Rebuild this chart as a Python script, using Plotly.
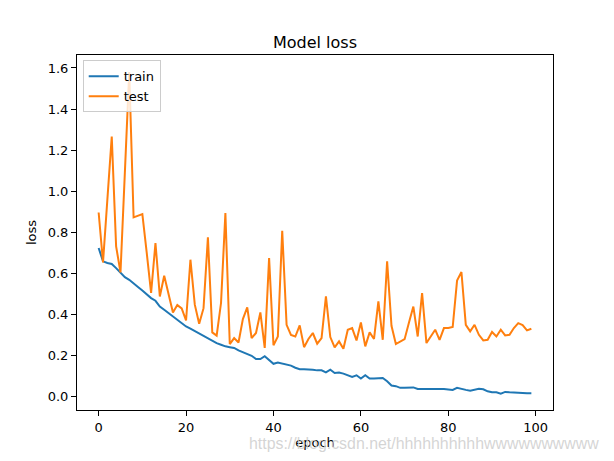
import plotly.graph_objects as go

# loss history, one value per epoch (0..99)
epochs = list(range(100))

train_loss = [
    0.723, 0.658, 0.650, 0.645, 0.625, 0.601, 0.581, 0.568, 0.549, 0.533,
    0.516, 0.495, 0.479, 0.466, 0.438, 0.422, 0.406, 0.387, 0.370, 0.354,
    0.341, 0.330, 0.318, 0.305, 0.296, 0.285, 0.273, 0.260, 0.252, 0.244,
    0.240, 0.236, 0.224, 0.215, 0.206, 0.198, 0.182, 0.182, 0.196, 0.179,
    0.159, 0.165, 0.159, 0.154, 0.150, 0.140, 0.133, 0.133, 0.133, 0.130,
    0.127, 0.127, 0.117, 0.130, 0.114, 0.117, 0.111, 0.103, 0.095, 0.103,
    0.087, 0.103, 0.087, 0.087, 0.087, 0.090, 0.074, 0.053, 0.050, 0.042,
    0.042, 0.043, 0.044, 0.036, 0.036, 0.037, 0.038, 0.039, 0.037, 0.036,
    0.034, 0.032, 0.042, 0.036, 0.032, 0.028, 0.032, 0.037, 0.035, 0.025,
    0.020, 0.020, 0.013, 0.022, 0.020, 0.020, 0.020, 0.017, 0.015, 0.015,
]

test_loss = [
    0.896, 0.653, 0.960, 1.266, 0.731, 0.604, 1.090, 1.580, 0.872, 0.880,
    0.888, 0.700, 0.504, 0.747, 0.487, 0.588, 0.500, 0.409, 0.445, 0.429,
    0.370, 0.666, 0.447, 0.354, 0.430, 0.775, 0.312, 0.296, 0.455, 0.893,
    0.255, 0.284, 0.263, 0.377, 0.434, 0.284, 0.309, 0.409, 0.236, 0.674,
    0.249, 0.292, 0.807, 0.349, 0.300, 0.292, 0.346, 0.240, 0.280, 0.309,
    0.257, 0.284, 0.487, 0.289, 0.239, 0.268, 0.232, 0.325, 0.333, 0.273,
    0.360, 0.244, 0.312, 0.280, 0.463, 0.276, 0.658, 0.344, 0.255, 0.268,
    0.279, 0.360, 0.438, 0.292, 0.503, 0.260, 0.290, 0.325, 0.276, 0.333,
    0.333, 0.338, 0.564, 0.606, 0.349, 0.317, 0.349, 0.300, 0.273, 0.276,
    0.314, 0.292, 0.325, 0.297, 0.300, 0.333, 0.357, 0.348, 0.322, 0.330,
]

x_ticks = [0, 20, 40, 60, 80, 100]
y_ticks = [0.0, 0.2, 0.4, 0.6, 0.8, 1.0, 1.2, 1.4, 1.6]

FONT = 'DejaVu Sans'

fig = go.Figure()
fig.add_trace(go.Scatter(x=epochs, y=train_loss, mode='lines', name='train',
                         line=dict(color='#1f77b4', width=2)))
fig.add_trace(go.Scatter(x=epochs, y=test_loss, mode='lines', name='test',
                         line=dict(color='#ff7f0e', width=2)))

axis_style = dict(showline=True, mirror=True, linecolor='black', linewidth=1,
                  ticks='outside', ticklen=5, tickwidth=1, tickcolor='black',
                  showgrid=False, zeroline=False,
                  tickfont=dict(family=FONT, size=13, color='black'))

fig.update_xaxes(range=[-4.95, 103.95], tickvals=x_ticks,
                 title=dict(text='epoch', font=dict(family=FONT, size=13, color='black'), standoff=4),
                 **axis_style)
fig.update_yaxes(range=[-0.066, 1.663], tickvals=y_ticks, tickformat='.1f',
                 title=dict(text='loss', font=dict(family=FONT, size=13, color='black'), standoff=8),
                 **axis_style)

# the page adds an 8px body margin, so the plot box is pulled up/left by that much
fig.update_layout(
    width=614, height=461,
    margin=dict(l=69, r=69, t=47, b=59),
    paper_bgcolor='white',
    plot_bgcolor='white',
    title=dict(text='Model loss', xref='paper', x=0.5, xanchor='center',
               y=1 - 34 / 461, yanchor='middle',
               font=dict(family=FONT, size=16, color='black')),
    legend=dict(x=0.012, y=0.985, xanchor='left', yanchor='top',
                bgcolor='rgba(255,255,255,0.8)', bordercolor='#cccccc', borderwidth=1,
                font=dict(family=FONT, size=13, color='black'),
                itemwidth=30, tracegroupgap=0),
    showlegend=True,
)

# csdn watermark in the lower right corner
fig.add_annotation(text='https://blog.csdn.net/hhhhhhhhhhwwwwwwwwww',
                   xref='paper', yref='paper', x=0.357, y=-0.093,
                   xanchor='left', yanchor='middle', showarrow=False,
                   font=dict(family='Liberation Sans', size=15.9, color='rgba(205,205,205,0.85)'))

fig.write_html('out.html')
